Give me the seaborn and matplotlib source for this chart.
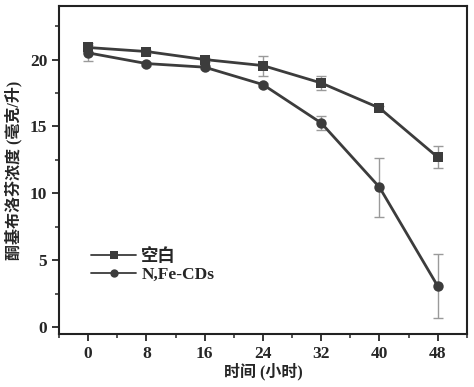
import pandas as pd
import matplotlib
matplotlib.use('Agg')
import matplotlib.pyplot as plt
import seaborn as sns
from matplotlib.ticker import MultipleLocator

hours = [0, 8, 16, 24, 32, 40, 48]
blank = [20.9, 20.6, 20.0, 19.55, 18.25, 16.38, 12.7]
blank_err = [0.35, 0.15, 0.15, 0.75, 0.55, 0.15, 0.83]
cds = [20.5, 19.7, 19.43, 18.13, 15.26, 10.46, 3.07]
cds_err = [0.6, 0.15, 0.15, 0.15, 0.55, 2.2, 2.4]
labels = ['空白', 'N,Fe-CDs']

sns.set_style('ticks')
plt.rcParams['font.family'] = ['Liberation Serif', 'Noto Sans CJK SC']
plt.rcParams['font.weight'] = 'bold'

df = pd.DataFrame({
    'hour': hours * 2,
    'conc': blank + cds,
    'group': [labels[0]] * len(hours) + [labels[1]] * len(hours),
})

fig = plt.figure(figsize=(4.74, 3.87), dpi=100)
ax = fig.add_axes([0.1245, 0.137, 0.8605, 0.8475])

line_col = '#3c3c3c'
err_col = '#9a9a9a'
for vals, errs in [(blank, blank_err), (cds, cds_err)]:
    ax.errorbar(hours, vals, yerr=errs, fmt='none', ecolor=err_col,
                elinewidth=1, capsize=3.5, capthick=1, zorder=1)

sns.lineplot(data=df, x='hour', y='conc', hue='group', style='group',
             markers=['s', 'o'], dashes=False, palette=[line_col, line_col],
             markersize=7.5, linewidth=2, markeredgewidth=0, ax=ax, zorder=3)

ax.set_xlim(-4, 52)
ax.set_ylim(-0.5, 24)
ax.xaxis.set_major_locator(MultipleLocator(8))
ax.xaxis.set_minor_locator(MultipleLocator(4))
ax.yaxis.set_major_locator(MultipleLocator(5))
ax.yaxis.set_minor_locator(MultipleLocator(2.5))
ax.tick_params(which='major', direction='out', length=5, width=1.3, labelsize=12.5)
ax.tick_params(which='minor', direction='out', length=3, width=1.1)
for s in ax.spines.values():
    s.set_linewidth(1.5)
    s.set_color('#222222')

ax.set_xlabel('时间 (小时)', fontsize=11.5, fontweight='bold', labelpad=1)
ax.set_ylabel('酮基布洛芬浓度 (毫克/升)', fontsize=11.5, fontweight='bold', labelpad=5)

handles, _ = ax.get_legend_handles_labels()
for h in handles:
    h.set_linewidth(1.3)
    h.set_markersize(6)
ax.legend(handles, labels, loc='upper left', bbox_to_anchor=(0.04, 0.31),
          frameon=False, handlelength=2.6, handletextpad=0.3, labelspacing=0.1,
          prop={'size': 12.5, 'weight': 'bold'})

fig.savefig('out.png', dpi=100)
